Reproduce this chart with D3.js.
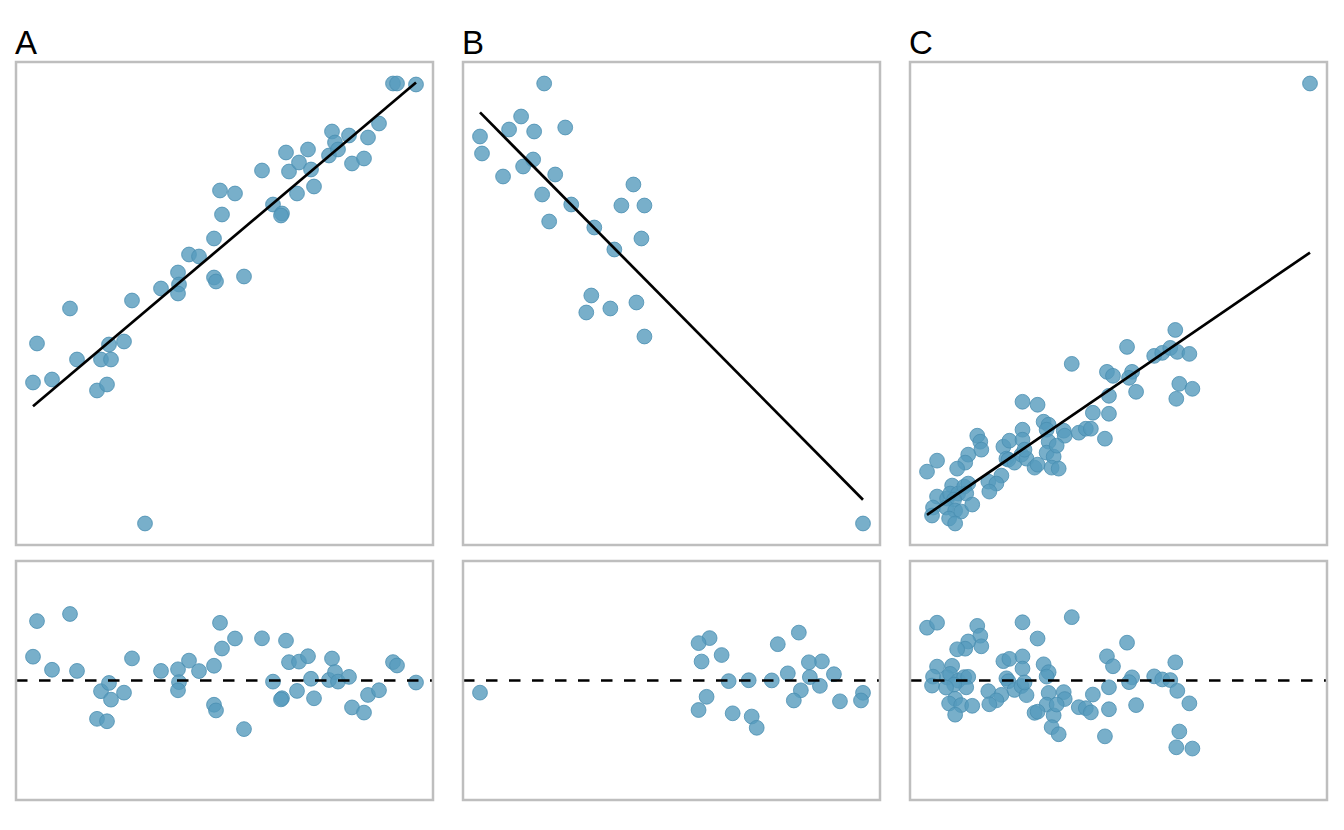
<!DOCTYPE html>
<html>
<head>
<meta charset="utf-8">
<script src="https://cdn.jsdelivr.net/npm/d3@7/dist/d3.min.js"></script>
<style>
  body { margin: 0; background: #fff; }
  .frame { fill: none; stroke: #bebebe; stroke-width: 2.5; }
  .dot { fill: #569bbd; fill-opacity: 0.8; stroke: #4a8fb2; stroke-opacity: 0.8; stroke-width: 1; }
  .fit-line { stroke: #000; stroke-width: 2.7; fill: none; }
  .zero-line { stroke: #000; stroke-width: 2.6; stroke-dasharray: 11.5 11.5; }
  .panel-label { font-family: "Liberation Sans", Arial, sans-serif; font-size: 33px; fill: #000; }
</style>
</head>
<body>
<svg width="1344" height="830"></svg>
<script>
// panel titles
var panelLabels = ['A', 'B', 'C'];

// panel A: strong positive trend, one low outlier
var aX = [1.7, 2.1, 3.6, 5.4, 6.1, 8.1, 9.1, 8.5, 9.5, 9.3, 10.8, 11.6, 12.9, 14.5, 16.2, 16.3, 16.2,
          17.3, 18.3, 19.8, 19.8, 20.0, 20.4, 20.6, 21.9, 22.8, 24.6, 25.7, 26.6, 26.5, 27.0, 27.3,
          28.1, 28.3, 29.2, 29.5, 29.8, 31.3, 31.6, 31.9, 32.2, 33.3, 33.6, 34.8, 35.2, 36.3, 37.7,
          38.1, 40.0];
var aY = [16.2, 20.1, 16.5, 23.6, 18.5, 15.4, 16.0, 18.5, 18.5, 20.0, 20.3, 24.4, 2.1, 25.6, 27.2, 26.0, 25.1,
          29.0, 28.8, 30.6, 26.7, 26.3, 35.4, 33.0, 35.1, 26.8, 37.4, 34.0, 33.1, 32.9, 39.2, 37.3,
          35.1, 38.2, 39.5, 37.5, 35.8, 38.9, 41.3, 40.2, 39.5, 40.9, 38.1, 38.6, 40.7, 42.1, 46.1,
          46.1, 46.0];

// panel B: negative cluster plus a far high-leverage point
var bX = [8.2, 1.8, 2.0, 4.7, 5.9, 7.2, 10.3, 4.1, 6.1, 7.1, 9.3, 8.0, 8.7, 10.9, 17.1, 15.9, 18.2,
          13.2, 15.2, 17.9, 12.9, 12.4, 14.8, 17.4, 18.2, 40.0];
var bY = [46.2, 40.9, 39.2, 41.6, 42.9, 41.4, 41.8, 36.9, 37.9, 38.6, 37.1, 35.1, 32.4, 34.1, 36.1, 34.0, 34.0,
          31.8, 29.6, 30.7, 25.0, 23.3, 23.7, 24.3, 20.9, 2.2];

// panel C: dense positive cloud plus a far top-right point
var cX = [1.8, 2.8, 6.8, 7.1, 7.2, 5.9, 5.6, 4.8, 11.3, 12.8, 9.4, 10.0, 11.3, 11.3, 2.8, 4.3, 2.4, 2.3,
          3.8, 4.1, 4.9, 5.5, 5.9, 5.7, 4.5, 3.7, 4.6, 4.0, 5.2, 6.3, 4.6, 7.9, 9.2, 8.7, 8.0, 9.7,
          9.9, 10.5, 11.2, 11.7, 11.5, 13.4, 13.9, 13.7, 13.9, 13.7, 12.5, 12.8, 14.4, 14.2, 14.9,
          16.2, 21.7, 19.7, 20.3, 22.2, 21.9, 24.4, 25.2, 26.0, 26.5, 26.7, 27.9, 19.9, 18.3, 15.4,
          15.5, 14.7, 16.9, 17.6, 18.1, 19.9, 22.6, 19.5, 26.9, 26.6, 28.2, 39.9];
var cY = [7.3, 8.4, 10.9, 10.3, 9.5, 9.0, 8.2, 7.6, 14.3, 14.0, 9.8, 10.4, 11.5, 10.5, 4.8, 5.9, 3.7, 2.9,
          4.6, 5.1, 5.1, 5.8, 6.1, 5.1, 4.5, 3.7, 3.4, 2.6, 3.3, 4.0, 2.1, 6.3, 6.9, 6.1, 5.3, 8.6,
          8.5, 8.2, 9.0, 8.6, 9.5, 12.3, 12.0, 11.5, 10.3, 9.2, 7.7, 8.0, 8.8, 7.7, 7.6,
          18.1, 19.8, 17.3, 16.9, 17.3, 16.7, 18.9, 19.2, 19.7, 21.5, 19.3, 19.1, 14.9, 13.2, 11.4,
          10.9, 9.9, 11.2, 11.6, 11.6, 13.1, 15.3, 10.6, 16.1, 14.6, 15.6, 46.2];

// residual plot y limits (symmetric), one per panel
var residLimits = [11.95, 23.4, 9.8];

var panels = [
    { label: panelLabels[0], x: aX, y: aY, lim: residLimits[0] },
    { label: panelLabels[1], x: bX, y: bY, lim: residLimits[1] },
    { label: panelLabels[2], x: cX, y: cY, lim: residLimits[2] }
];

// layout
var panelLeft = 16, panelWidth = 417, panelGap = 30;
var topY = 62, topH = 483;
var resTop = 561, resH = 239;
var padX = 17, padY = 21.5;
var dotRadius = 7.4;

var svg = d3.select('svg');

function leastSquares(xs, ys) {
    var mx = d3.mean(xs), my = d3.mean(ys);
    var sxy = d3.sum(xs, function (d, i) { return (d - mx) * (ys[i] - my); });
    var sxx = d3.sum(xs, function (d) { return (d - mx) * (d - mx); });
    var b = sxy / sxx;
    return { a: my - b * mx, b: b };
}

panels.forEach(function (p, k) {
    var left = panelLeft + k * (panelWidth + panelGap);
    var right = left + panelWidth;
    var pts = p.x.map(function (d, i) { return { x: d, y: p.y[i] }; });

    var fit = leastSquares(p.x, p.y);
    pts.forEach(function (d) {
        d.fitted = fit.a + fit.b * d.x;
        d.resid = d.y - d.fitted;
    });

    var x = d3.scaleLinear().domain(d3.extent(p.x)).range([left + padX, right - padX]);
    var y = d3.scaleLinear().domain(d3.extent(p.y)).range([topY + topH - padY, topY + padY]);
    var rx = d3.scaleLinear().domain(d3.extent(pts, function (d) { return d.fitted; })).range(x.range());
    var ry = d3.scaleLinear().domain([-p.lim, p.lim]).range([resTop + resH, resTop]);

    var g = svg.append('g').attr('class', 'panel');

    // title
    g.append('text').attr('class', 'panel-label')
        .attr('x', left - 1).attr('y', 54)
        .text(p.label);

    // scatter with fitted line
    g.append('g').selectAll('circle')
        .data(pts)
        .enter()
            .append('circle')
            .attr('class', 'dot')
            .attr('cx', function (d) { return x(d.x); })
            .attr('cy', function (d) { return y(d.y); })
            .attr('r', dotRadius);

    var xr = d3.extent(p.x);
    g.append('line').attr('class', 'fit-line')
        .attr('x1', x(xr[0])).attr('y1', y(fit.a + fit.b * xr[0]))
        .attr('x2', x(xr[1])).attr('y2', y(fit.a + fit.b * xr[1]));

    g.append('rect').attr('class', 'frame')
        .attr('x', left).attr('y', topY)
        .attr('width', panelWidth).attr('height', topH);

    // residuals vs fitted, clipped to the box
    var clipId = 'res-clip-' + k;
    svg.append('clipPath').attr('id', clipId)
        .append('rect')
        .attr('x', left).attr('y', resTop)
        .attr('width', panelWidth).attr('height', resH);

    var rg = g.append('g').attr('clip-path', 'url(#' + clipId + ')');
    rg.selectAll('circle')
        .data(pts)
        .enter()
            .append('circle')
            .attr('class', 'dot')
            .attr('cx', function (d) { return rx(d.fitted); })
            .attr('cy', function (d) { return ry(d.resid); })
            .attr('r', dotRadius);

    rg.append('line').attr('class', 'zero-line')
        .attr('x1', left).attr('y1', ry(0))
        .attr('x2', right).attr('y2', ry(0));

    g.append('rect').attr('class', 'frame')
        .attr('x', left).attr('y', resTop)
        .attr('width', panelWidth).attr('height', resH);
});
</script>
</body>
</html>
